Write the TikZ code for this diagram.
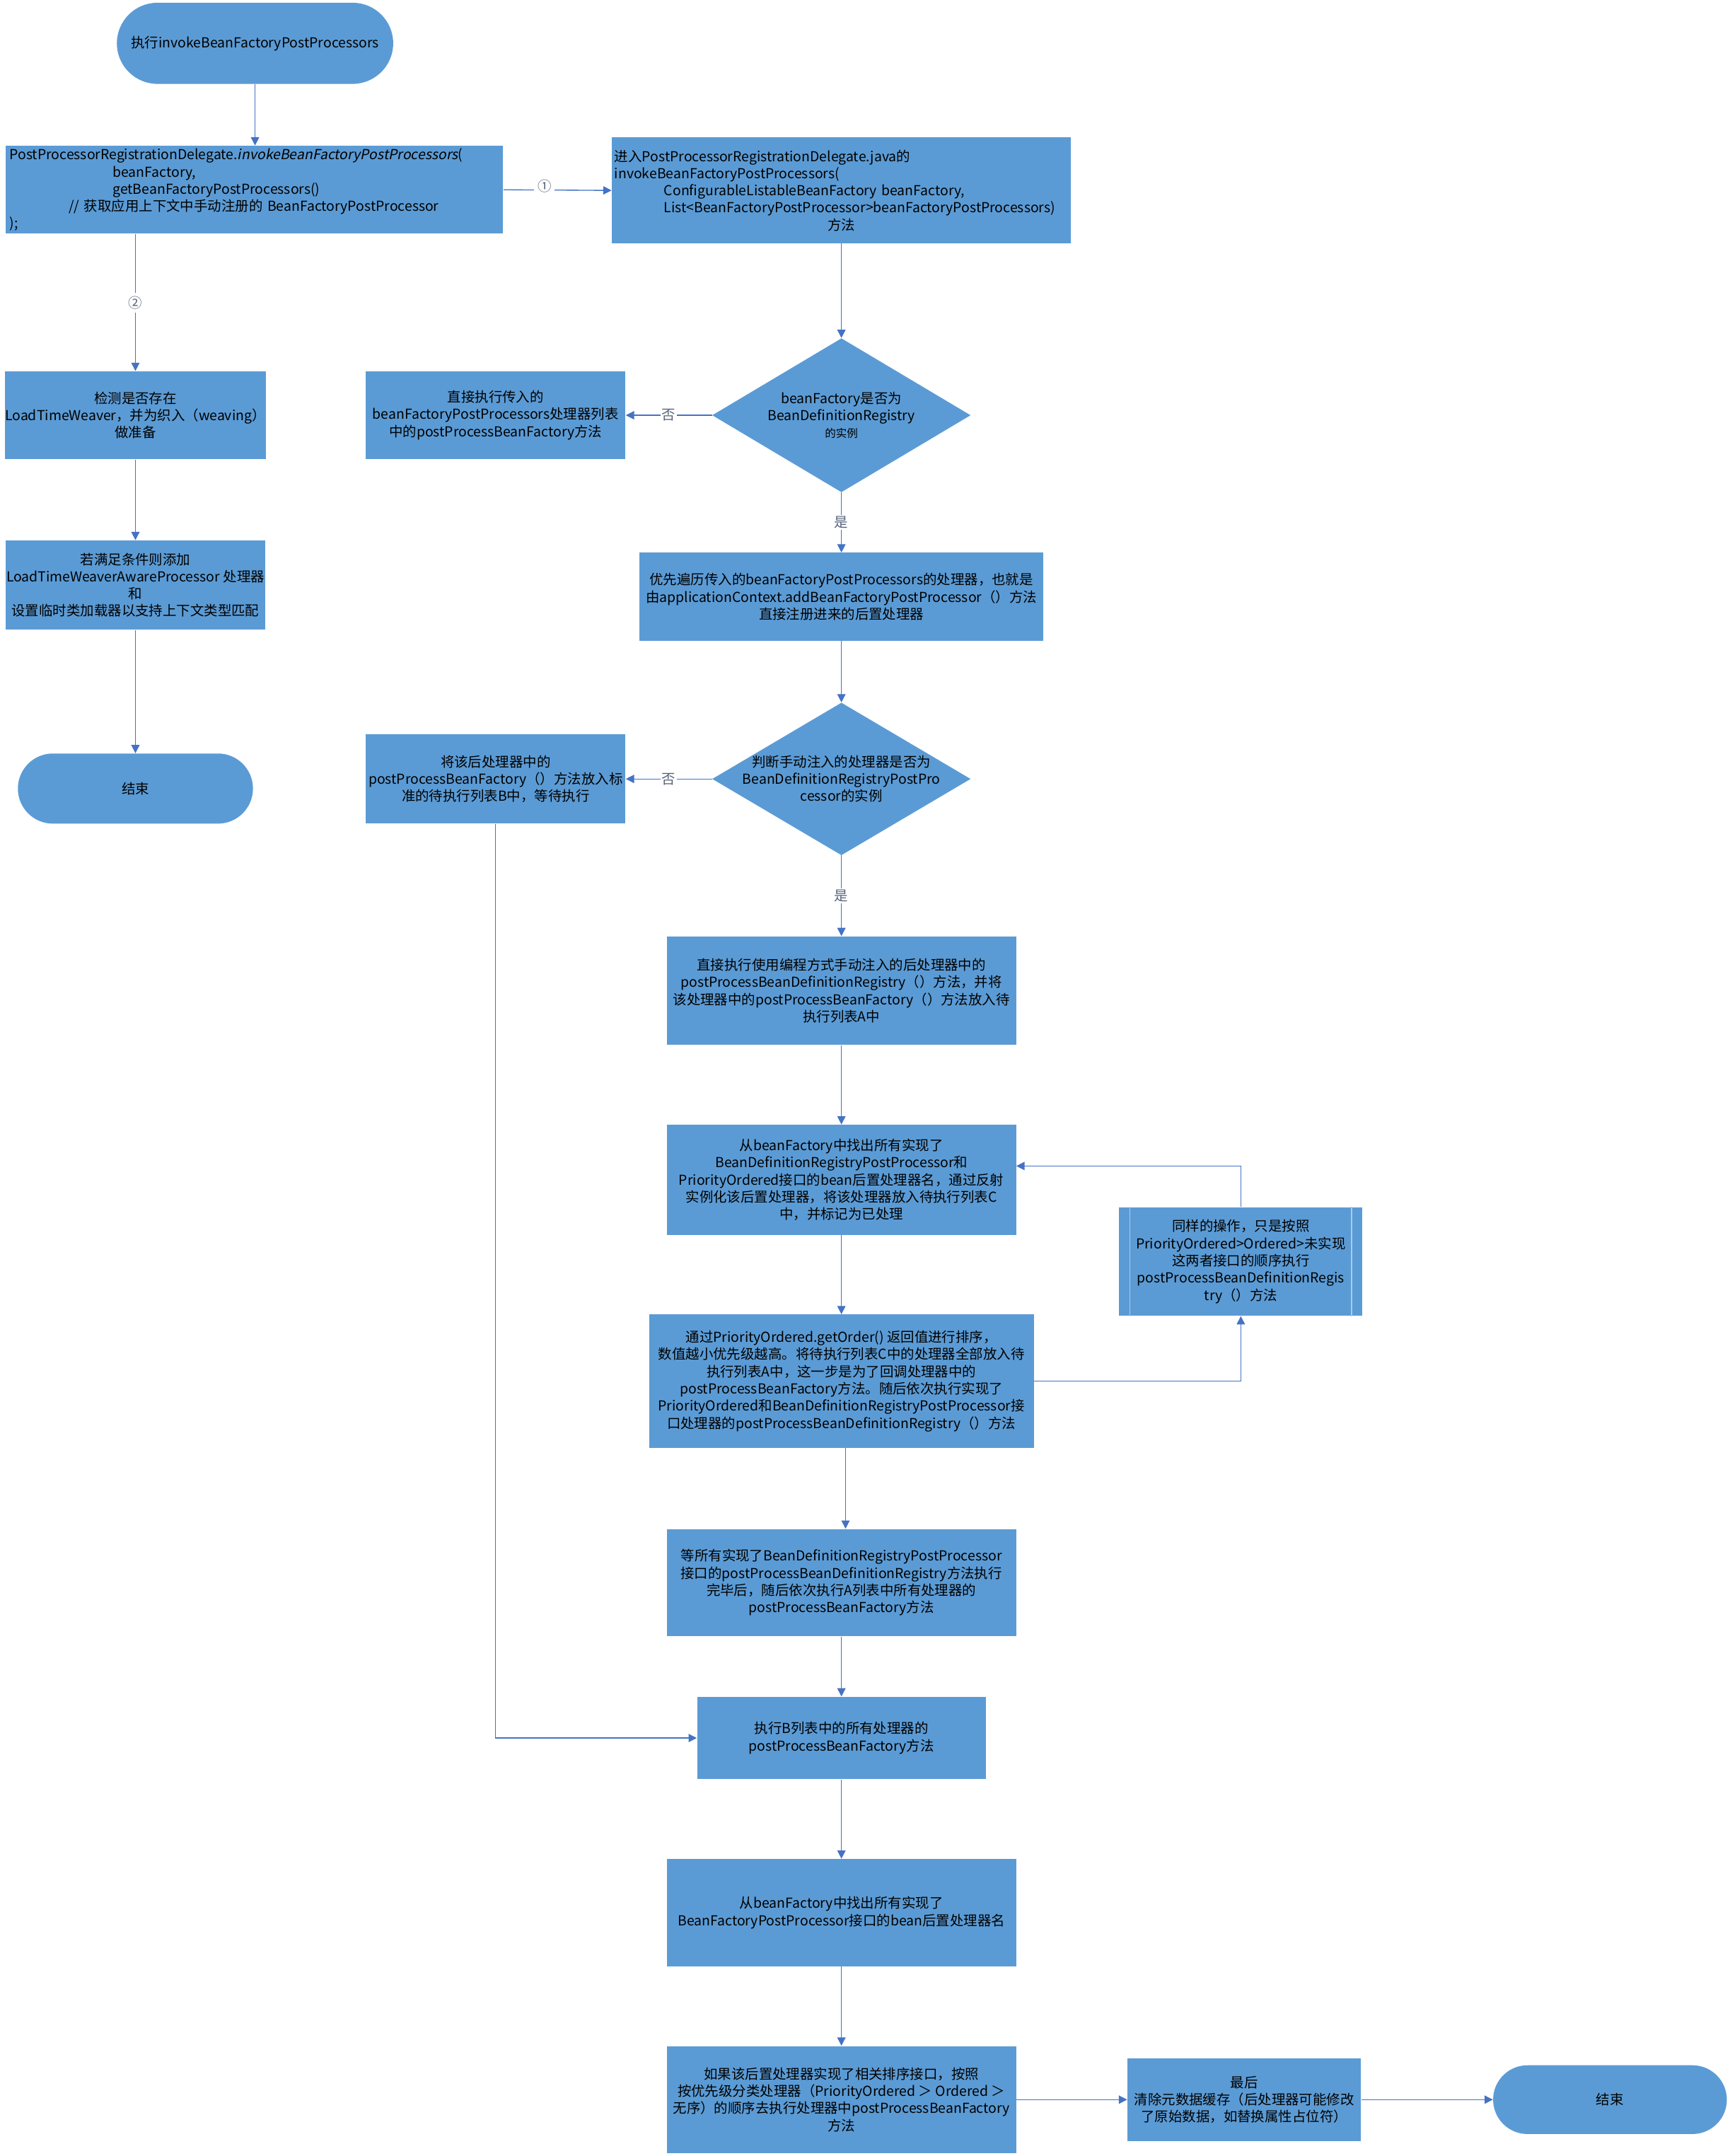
\documentclass[tikz,border=0pt]{standalone}
\usepackage{fontspec}
\setmainfont{Noto Sans CJK SC}
\newfontfamily\myitfont{Noto Sans CJK SC}[FakeSlant=0.2]
\usetikzlibrary{shapes.geometric,shapes.misc,arrows.meta}
\definecolor{boxblue}{HTML}{5B9BD5}
\definecolor{linecol}{HTML}{4472C4}
\definecolor{labcol}{HTML}{54627A}
\definecolor{innerline}{HTML}{A9CBEC}
\newcommand\myfont{\fontsize{10}{12.5}\selectfont}
\tikzset{
  box/.style={rectangle, fill=boxblue, inner sep=0pt, align=center, font=\myfont},
  term/.style={rounded rectangle, fill=boxblue, inner sep=0pt, font=\myfont},
  dec/.style={diamond, fill=boxblue, inner sep=0pt},
  dectext/.style={align=center, font=\myfont, inner sep=0pt},
  arr/.style={draw=linecol, line width=0.7pt, -{Triangle[length=6pt,width=6pt]}},
  lab/.style={fill=white, inner sep=2.5pt, text=labcol, font=\myfont},
}
\begin{document}
\begin{tikzpicture}[x=1pt,y=-1pt]
\useasboundingbox (0,0) rectangle (1258,1568);

% left column
\node[term, minimum width=201pt, minimum height=59pt] (start) at (185.5,31.5) {执行invokeBeanFactoryPostProcessors};
\node[box, align=left, text width=356pt, inner xsep=3pt, minimum height=64pt] (P1) at (185,138) {%
PostProcessorRegistrationDelegate.{\myitfont invokeBeanFactoryPostProcessors}(\\
\hspace*{75pt}beanFactory,\\
\hspace*{75pt}getBeanFactoryPostProcessors()\\
\hspace*{43pt}// 获取应用上下文中手动注册的 BeanFactoryPostProcessor\\
);};
\node[box, align=left, text width=330pt, inner xsep=2pt, minimum height=77pt] (P2) at (612,138.5) {%
进入PostProcessorRegistrationDelegate.java的\\
invokeBeanFactoryPostProcessors(\\
\hspace*{36pt}ConfigurableListableBeanFactory beanFactory,\\
\hspace*{36pt}List<BeanFactoryPostProcessor>beanFactoryPostProcessors)\\
\makebox[330pt][c]{方法}};
\node[box, minimum width=189pt, minimum height=64pt] (L1) at (98.5,302) {检测是否存在\\LoadTimeWeaver，并为织入（weaving）\\做准备};
\node[box, minimum width=189pt, minimum height=65pt] (L2) at (98.5,425.5) {若满足条件则添加\\LoadTimeWeaverAwareProcessor 处理器\\和\\设置临时类加载器以支持上下文类型匹配};
\node[term, minimum width=171pt, minimum height=51pt] (E1) at (98.5,573.5) {结束};

% decisions
\node[dec, minimum width=188pt, minimum height=112pt] (D1) at (612,302) {};
\node[dectext] (D1t) at (612,302) {beanFactory是否为\\BeanDefinitionRegistry\\{\fontsize{8}{10}\selectfont 的实例}};
\node[box, minimum width=189pt, minimum height=64pt] (N1) at (360.5,302) {直接执行传入的\\beanFactoryPostProcessors处理器列表\\中的postProcessBeanFactory方法};
\node[box, minimum width=294pt, minimum height=64pt] (R1) at (612,434) {优先遍历传入的beanFactoryPostProcessors的处理器，也就是\\由applicationContext.addBeanFactoryPostProcessor（）方法\\直接注册进来的后置处理器};
\node[dec, minimum width=188pt, minimum height=111pt] (D2) at (612,566.5) {};
\node[dectext] (D2t) at (612,566.5) {判断手动注入的处理器是否为\\BeanDefinitionRegistryPostPro\\cessor的实例};
\node[box, minimum width=189pt, minimum height=65pt] (N2) at (360.5,566.5) {将该后处理器中的\\postProcessBeanFactory（）方法放入标\\准的待执行列表B中，等待执行};

% main column
\node[box, minimum width=254pt, minimum height=79pt] (R2) at (612,720.5) {直接执行使用编程方式手动注入的后处理器中的\\postProcessBeanDefinitionRegistry（）方法，并将\\该处理器中的postProcessBeanFactory（）方法放入待\\执行列表A中};
\node[box, minimum width=254pt, minimum height=80pt] (R3) at (612,858) {从beanFactory中找出所有实现了\\BeanDefinitionRegistryPostProcessor和\\PriorityOrdered接口的bean后置处理器名，通过反射\\实例化该后置处理器，将该处理器放入待执行列表C\\中，并标记为已处理};
\node[box, minimum width=280pt, minimum height=97pt] (R4) at (612,1004.5) {通过PriorityOrdered.getOrder() 返回值进行排序，\\数值越小优先级越高。将待执行列表C中的处理器全部放入待\\执行列表A中，这一步是为了回调处理器中的\\postProcessBeanFactory方法。随后依次执行实现了\\PriorityOrdered和BeanDefinitionRegistryPostProcessor接\\口处理器的postProcessBeanDefinitionRegistry（）方法};
\node[box, minimum width=177pt, minimum height=79pt] (S) at (902.5,917.5) {同样的操作，只是按照\\PriorityOrdered>Ordered>未实现\\这两者接口的顺序执行\\postProcessBeanDefinitionRegis\\try（）方法};
\draw[innerline, line width=1pt] ([xshift=8pt]S.north west) -- ([xshift=8pt]S.south west);
\draw[innerline, line width=1pt] ([xshift=-8pt]S.north east) -- ([xshift=-8pt]S.south east);
\node[box, minimum width=254pt, minimum height=78pt] (R5) at (612,1151) {等所有实现了BeanDefinitionRegistryPostProcessor\\接口的postProcessBeanDefinitionRegistry方法执行\\完毕后，随后依次执行A列表中所有处理器的\\postProcessBeanFactory方法};
\node[box, minimum width=210pt, minimum height=60pt] (R6) at (612,1264) {执行B列表中的所有处理器的\\postProcessBeanFactory方法};
\node[box, minimum width=254pt, minimum height=78pt] (R7) at (612,1391) {从beanFactory中找出所有实现了\\BeanFactoryPostProcessor接口的bean后置处理器名};
\node[box, minimum width=254pt, minimum height=78pt] (R8) at (612,1527) {如果该后置处理器实现了相关排序接口，按照\\按优先级分类处理器（PriorityOrdered ＞ Ordered ＞\\无序）的顺序去执行处理器中postProcessBeanFactory\\方法};
\node[box, minimum width=170pt, minimum height=60pt] (R9) at (905,1527) {最后\\清除元数据缓存（后处理器可能修改\\了原始数据，如替换属性占位符）};
\node[term, minimum width=170pt, minimum height=50pt] (E2) at (1171,1527) {结束};

% connectors
\draw[arr] (start.south) -- (P1.north -| start.south);
\draw[arr] (P1.east) -- node[lab, pos=0.38, yshift=3pt] (l1) {①} (P2.west);
\draw[arr] (P1.south -| L1.north) -- node[lab, pos=0.5] (l2) {②} (L1.north);
\draw[arr] (L1.south) -- (L2.north);
\draw[arr] (L2.south) -- (E1.north);
\draw[arr] (P2.south) -- (D1.north);
\draw[arr] (D1.west) -- node[lab, pos=0.5, inner sep=1pt] (l3) {否} (N1.east);
\draw[arr] (D1.south) -- node[lab, pos=0.5, inner sep=1pt] (l4) {是} (R1.north);
\draw[arr] (R1.south) -- (D2.north);
\draw[arr] (D2.west) -- node[lab, pos=0.5, inner sep=1pt] (l5) {否} (N2.east);
\draw[arr] (D2.south) -- node[lab, pos=0.5, inner sep=1pt] (l6) {是} (R2.north);
\draw[arr] (R2.south) -- (R3.north);
\draw[arr] (R3.south) -- (R4.north);
\draw[arr] (R4.east) -| (S.south);
\draw[arr] (S.north) |- ([yshift=10pt]R3.east);
\draw[arr] ([xshift=3pt]R4.south) -- ([xshift=3pt]R5.north);
\draw[arr] (R5.south) -- (R6.north);
\draw[arr] (N2.south) |- (R6.west);
\draw[arr] (R6.south) -- (R7.north);
\draw[arr] (R7.south) -- (R8.north);
\draw[arr] (R8.east) -- (R9.west);
\draw[arr] (R9.east) -- (E2.west);
\end{tikzpicture}
\end{document}
